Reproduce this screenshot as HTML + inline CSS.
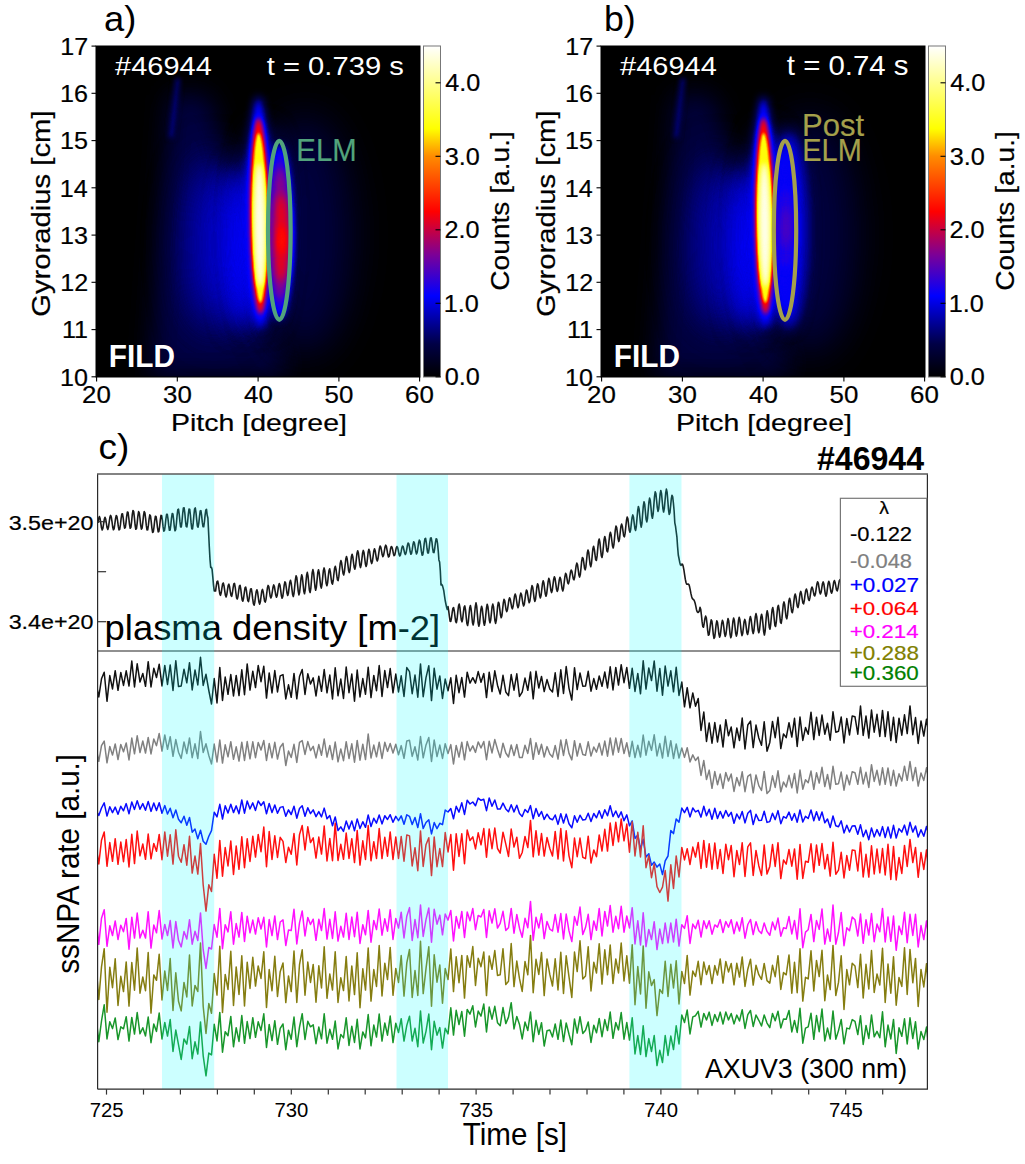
<!DOCTYPE html>
<html><head><meta charset="utf-8"><style>
html,body{margin:0;padding:0;background:#fff;width:1025px;height:1164px;overflow:hidden}
svg{display:block}
text{font-family:"Liberation Sans", sans-serif}
</style></head><body>
<svg width="1025" height="1164" viewBox="0 0 1025 1164">
<rect width="1025" height="1164" fill="#fff"/>
<defs>
<filter id="cm" x="0" y="0" width="1" height="1" color-interpolation-filters="sRGB"><feComponentTransfer><feFuncR type="table" tableValues="0.000 0.000 0.000 0.000 0.000 0.000 0.000 0.000 0.000 0.000 0.000 0.000 0.000 0.000 0.000 0.000 0.035 0.097 0.160 0.222 0.284 0.346 0.409 0.471 0.533 0.595 0.658 0.720 0.782 0.844 0.907 0.969 1.000 1.000 1.000 1.000 1.000 1.000 1.000 1.000 1.000 1.000 1.000 1.000 1.000 1.000 1.000 1.000 1.000 1.000 1.000 1.000 1.000 1.000 1.000 1.000 1.000 1.000 1.000 1.000 1.000 1.000 1.000 1.000"/><feFuncG type="table" tableValues="0.000 0.000 0.000 0.000 0.000 0.000 0.000 0.000 0.000 0.000 0.000 0.000 0.000 0.000 0.000 0.000 0.000 0.000 0.000 0.000 0.000 0.000 0.000 0.000 0.000 0.000 0.000 0.000 0.000 0.000 0.000 0.000 0.026 0.078 0.130 0.183 0.235 0.287 0.339 0.391 0.444 0.496 0.548 0.633 0.720 0.806 0.892 0.978 1.000 1.000 1.000 1.000 1.000 1.000 1.000 1.000 1.000 1.000 1.000 1.000 1.000 1.000 1.000 1.000"/><feFuncB type="table" tableValues="0.000 0.044 0.087 0.131 0.174 0.218 0.261 0.330 0.410 0.489 0.568 0.648 0.727 0.807 0.886 0.965 0.970 0.918 0.866 0.814 0.761 0.709 0.657 0.604 0.539 0.467 0.395 0.323 0.251 0.180 0.108 0.036 0.000 0.000 0.000 0.000 0.000 0.000 0.000 0.000 0.000 0.000 0.000 0.000 0.000 0.000 0.000 0.000 0.048 0.111 0.175 0.238 0.302 0.365 0.429 0.492 0.556 0.619 0.683 0.746 0.810 0.873 0.937 1.000"/></feComponentTransfer></filter>
<filter id="b1" x="-100%" y="-100%" width="300%" height="300%" color-interpolation-filters="sRGB"><feGaussianBlur stdDeviation="1.2"/></filter>
<filter id="b2" x="-100%" y="-100%" width="300%" height="300%" color-interpolation-filters="sRGB"><feGaussianBlur stdDeviation="2.5"/></filter>
<filter id="b3" x="-100%" y="-100%" width="300%" height="300%" color-interpolation-filters="sRGB"><feGaussianBlur stdDeviation="4"/></filter>
<filter id="b4" x="-100%" y="-100%" width="300%" height="300%" color-interpolation-filters="sRGB"><feGaussianBlur stdDeviation="7"/></filter>
<filter id="b5" x="-100%" y="-100%" width="300%" height="300%" color-interpolation-filters="sRGB"><feGaussianBlur stdDeviation="13"/></filter>
<filter id="b6" x="-100%" y="-100%" width="300%" height="300%" color-interpolation-filters="sRGB"><feGaussianBlur stdDeviation="20"/></filter>
<linearGradient id="cbg" x1="0" y1="1" x2="0" y2="0"><stop offset="0.0" stop-color="rgb(0,0,0)"/><stop offset="0.1" stop-color="rgb(0,0,70)"/><stop offset="0.245" stop-color="rgb(0,0,255)"/><stop offset="0.37" stop-color="rgb(125,0,150)"/><stop offset="0.5" stop-color="rgb(255,0,0)"/><stop offset="0.667" stop-color="rgb(255,140,0)"/><stop offset="0.75" stop-color="rgb(255,255,0)"/><stop offset="1.0" stop-color="rgb(255,255,255)"/></linearGradient>
<clipPath id="clipA"><rect x="96" y="46" width="324" height="331"/></clipPath>
<clipPath id="clipC"><rect x="97.5" y="474" width="829.5" height="615"/></clipPath>
</defs>
<g clip-path="url(#clipA)" transform="translate(0,0)">
<g filter="url(#cm)">
<rect x="96" y="46" width="324" height="331" fill="#000"/>
<path d="M170,95 L208,95 L288,377 L150,377 Z" fill="rgb(24,24,24)" filter="url(#b5)"/>
<ellipse cx="214" cy="245" rx="26" ry="88" fill="rgb(54,54,54)" filter="url(#b6)"/>
<ellipse cx="305" cy="235" rx="45" ry="120" fill="rgb(23,23,23)" filter="url(#b6)"/>
<path d="M178,78 L171,138" stroke="rgb(40,40,40)" stroke-width="5" filter="url(#b2)"/>
<ellipse cx="242" cy="248" rx="14" ry="82" fill="rgb(71,71,71)" filter="url(#b5)"/>
<ellipse cx="262" cy="228" rx="18" ry="98" fill="rgb(57,57,57)" filter="url(#b5)"/>
<ellipse cx="280" cy="232" rx="12" ry="88" fill="rgb(77,77,77)" filter="url(#b3)"/>
<ellipse cx="280" cy="233" rx="9.5" ry="66" fill="rgb(99,99,99)" filter="url(#b3)"/>
<ellipse cx="281" cy="238" rx="8.5" ry="44" fill="rgb(122,122,122)" filter="url(#b3)"/>
<ellipse cx="281.5" cy="240" rx="4" ry="14" fill="rgb(136,136,136)" filter="url(#b3)"/>
<ellipse cx="259.5" cy="212" rx="11" ry="116" fill="rgb(74,74,74)" filter="url(#b3)" transform="rotate(-0.6 259.5 212)"/>
<ellipse cx="259.5" cy="216" rx="8.8" ry="98" fill="rgb(133,133,133)" filter="url(#b2)" transform="rotate(-0.6 259.5 216)"/>
<ellipse cx="259.5" cy="218" rx="7.4" ry="85" fill="rgb(193,193,193)" filter="url(#b1)" transform="rotate(-0.6 259.5 218)"/>
<ellipse cx="259.8" cy="225" rx="5.8" ry="62" fill="rgb(249,249,249)" filter="url(#b2)" transform="rotate(-0.6 259.8 225)"/>
</g></g>
<rect x="96" y="46" width="324" height="331" fill="none" stroke="#000" stroke-width="1"/>
<line x1="91.5" y1="376.8" x2="96" y2="376.8" stroke="#000" stroke-width="1.1"/>
<line x1="91.5" y1="329.6" x2="96" y2="329.6" stroke="#000" stroke-width="1.1"/>
<line x1="91.5" y1="282.3" x2="96" y2="282.3" stroke="#000" stroke-width="1.1"/>
<line x1="91.5" y1="235.1" x2="96" y2="235.1" stroke="#000" stroke-width="1.1"/>
<line x1="91.5" y1="187.8" x2="96" y2="187.8" stroke="#000" stroke-width="1.1"/>
<line x1="91.5" y1="140.6" x2="96" y2="140.6" stroke="#000" stroke-width="1.1"/>
<line x1="91.5" y1="93.3" x2="96" y2="93.3" stroke="#000" stroke-width="1.1"/>
<line x1="91.5" y1="46.1" x2="96" y2="46.1" stroke="#000" stroke-width="1.1"/>
<line x1="96.6" y1="377" x2="96.6" y2="381.5" stroke="#000" stroke-width="1.1"/>
<line x1="177.3" y1="377" x2="177.3" y2="381.5" stroke="#000" stroke-width="1.1"/>
<line x1="258.1" y1="377" x2="258.1" y2="381.5" stroke="#000" stroke-width="1.1"/>
<line x1="338.9" y1="377" x2="338.9" y2="381.5" stroke="#000" stroke-width="1.1"/>
<line x1="419.6" y1="377" x2="419.6" y2="381.5" stroke="#000" stroke-width="1.1"/>
<rect x="423.5" y="46" width="17" height="331" fill="url(#cbg)" stroke="#777" stroke-width="1"/>
<line x1="435.5" y1="376.8" x2="440.5" y2="376.8" stroke="#000" stroke-width="1.1"/>
<line x1="435.5" y1="303.3" x2="440.5" y2="303.3" stroke="#000" stroke-width="1.1"/>
<line x1="435.5" y1="229.8" x2="440.5" y2="229.8" stroke="#000" stroke-width="1.1"/>
<line x1="435.5" y1="156.3" x2="440.5" y2="156.3" stroke="#000" stroke-width="1.1"/>
<line x1="435.5" y1="82.8" x2="440.5" y2="82.8" stroke="#000" stroke-width="1.1"/>
<g clip-path="url(#clipA)" transform="translate(505,0)">
<g filter="url(#cm)">
<rect x="96" y="46" width="324" height="331" fill="#000"/>
<path d="M170,95 L208,95 L288,377 L150,377 Z" fill="rgb(22,22,22)" filter="url(#b5)"/>
<ellipse cx="214" cy="245" rx="26" ry="88" fill="rgb(50,50,50)" filter="url(#b6)"/>
<ellipse cx="305" cy="235" rx="45" ry="120" fill="rgb(23,23,23)" filter="url(#b6)"/>
<path d="M178,78 L171,138" stroke="rgb(40,40,40)" stroke-width="5" filter="url(#b2)"/>
<ellipse cx="242" cy="248" rx="14" ry="82" fill="rgb(71,71,71)" filter="url(#b5)"/>
<ellipse cx="262" cy="228" rx="18" ry="98" fill="rgb(57,57,57)" filter="url(#b5)"/>
<ellipse cx="284" cy="230" rx="18" ry="100" fill="rgb(61,61,61)" filter="url(#b4)"/>
<ellipse cx="280" cy="230" rx="11" ry="82" fill="rgb(63,63,63)" filter="url(#b3)"/>
<ellipse cx="281" cy="228" rx="7" ry="40" fill="rgb(74,74,74)" filter="url(#b3)"/>
<ellipse cx="281" cy="227" rx="4" ry="18" fill="rgb(85,85,85)" filter="url(#b3)"/>
<ellipse cx="259.5" cy="212" rx="11" ry="116" fill="rgb(74,74,74)" filter="url(#b3)" transform="rotate(-0.6 259.5 212)"/>
<ellipse cx="259.5" cy="216" rx="8.8" ry="98" fill="rgb(133,133,133)" filter="url(#b2)" transform="rotate(-0.6 259.5 216)"/>
<ellipse cx="259.5" cy="218" rx="7.4" ry="85" fill="rgb(193,193,193)" filter="url(#b1)" transform="rotate(-0.6 259.5 218)"/>
<ellipse cx="259.8" cy="225" rx="5.8" ry="62" fill="rgb(249,249,249)" filter="url(#b2)" transform="rotate(-0.6 259.8 225)"/>
</g></g>
<rect x="601" y="46" width="324" height="331" fill="none" stroke="#000" stroke-width="1"/>
<line x1="596.5" y1="376.8" x2="601" y2="376.8" stroke="#000" stroke-width="1.1"/>
<line x1="596.5" y1="329.6" x2="601" y2="329.6" stroke="#000" stroke-width="1.1"/>
<line x1="596.5" y1="282.3" x2="601" y2="282.3" stroke="#000" stroke-width="1.1"/>
<line x1="596.5" y1="235.1" x2="601" y2="235.1" stroke="#000" stroke-width="1.1"/>
<line x1="596.5" y1="187.8" x2="601" y2="187.8" stroke="#000" stroke-width="1.1"/>
<line x1="596.5" y1="140.6" x2="601" y2="140.6" stroke="#000" stroke-width="1.1"/>
<line x1="596.5" y1="93.3" x2="601" y2="93.3" stroke="#000" stroke-width="1.1"/>
<line x1="596.5" y1="46.1" x2="601" y2="46.1" stroke="#000" stroke-width="1.1"/>
<line x1="601.6" y1="377" x2="601.6" y2="381.5" stroke="#000" stroke-width="1.1"/>
<line x1="682.4" y1="377" x2="682.4" y2="381.5" stroke="#000" stroke-width="1.1"/>
<line x1="763.1" y1="377" x2="763.1" y2="381.5" stroke="#000" stroke-width="1.1"/>
<line x1="843.9" y1="377" x2="843.9" y2="381.5" stroke="#000" stroke-width="1.1"/>
<line x1="924.6" y1="377" x2="924.6" y2="381.5" stroke="#000" stroke-width="1.1"/>
<rect x="928.5" y="46" width="17" height="331" fill="url(#cbg)" stroke="#777" stroke-width="1"/>
<line x1="940.5" y1="376.8" x2="945.5" y2="376.8" stroke="#000" stroke-width="1.1"/>
<line x1="940.5" y1="303.3" x2="945.5" y2="303.3" stroke="#000" stroke-width="1.1"/>
<line x1="940.5" y1="229.8" x2="945.5" y2="229.8" stroke="#000" stroke-width="1.1"/>
<line x1="940.5" y1="156.3" x2="945.5" y2="156.3" stroke="#000" stroke-width="1.1"/>
<line x1="940.5" y1="82.8" x2="945.5" y2="82.8" stroke="#000" stroke-width="1.1"/>
<ellipse cx="279.3" cy="230.3" rx="11.3" ry="89.5" fill="none" stroke="#52a37c" stroke-width="4.2"/>
<ellipse cx="785" cy="230.3" rx="11.2" ry="89.5" fill="none" stroke="#a5a04b" stroke-width="4.2"/>
<g clip-path="url(#clipC)">
<polyline points="98.0,522.9 98.7,518.3 99.4,516.6 100.1,518.6 100.8,523.2 101.5,527.8 102.2,529.9 102.9,528.2 103.6,523.8 104.3,519.3 105.0,517.2 105.7,519.0 106.4,523.5 107.1,527.8 107.8,529.4 108.5,527.1 109.2,522.2 109.9,517.3 110.6,515.4 111.3,517.0 112.0,521.6 112.7,527.0 113.4,529.8 114.1,528.8 114.8,524.2 115.5,518.8 116.2,515.6 116.9,516.3 117.6,520.7 118.3,526.4 119.0,529.9 119.7,529.4 120.4,524.9 121.1,518.7 121.8,514.0 122.5,513.8 123.2,518.0 123.9,524.2 124.6,528.2 125.3,527.7 126.0,522.6 126.7,516.1 127.4,512.0 128.1,512.5 128.8,518.0 129.5,524.3 130.2,528.3 130.9,527.3 131.6,521.6 132.3,514.3 133.0,510.5 133.7,511.7 134.4,517.7 135.1,525.0 135.8,529.3 136.5,528.4 137.2,522.8 137.9,515.8 138.6,511.6 139.3,512.8 140.0,518.5 140.7,525.3 141.4,529.2 142.1,528.0 142.8,522.4 143.5,515.6 144.2,511.6 144.9,512.9 145.6,518.4 146.3,525.4 147.0,530.0 147.7,529.8 148.4,525.2 149.1,518.9 149.8,514.9 150.5,515.9 151.2,521.3 151.9,528.1 152.6,532.4 153.3,531.8 154.0,527.0 154.7,520.6 155.4,516.2 156.1,516.7 156.8,521.4 157.5,527.6 158.2,531.9 158.9,531.5 159.6,526.6 160.3,519.9 161.0,515.4 161.7,515.7 162.4,520.4 163.1,526.9 163.8,531.1 164.5,530.5 165.2,525.6 165.9,518.8 166.6,514.3 167.3,514.3 168.0,518.9 168.7,525.4 169.4,530.3 170.1,530.1 170.8,525.1 171.5,518.2 172.2,513.5 172.9,513.9 173.6,519.4 174.3,526.5 175.0,530.8 175.7,529.6 176.4,523.5 177.1,515.3 177.8,509.6 178.5,509.2 179.2,514.1 179.9,521.4 180.6,527.0 181.3,526.9 182.0,521.3 182.7,513.5 183.4,507.9 184.1,507.7 184.8,512.9 185.5,520.8 186.2,526.4 186.9,527.0 187.6,522.0 188.3,514.3 189.0,509.1 189.7,509.2 190.4,515.1 191.1,522.9 191.8,528.8 192.5,528.9 193.2,523.3 193.9,515.1 194.6,508.9 195.3,507.9 196.0,512.6 196.7,519.9 197.4,526.1 198.1,527.2 198.8,523.1 199.5,516.6 200.2,511.0 200.9,510.6 201.6,515.4 202.3,522.2 203.0,526.7 203.7,526.8 204.4,522.0 205.1,515.2 205.8,510.1 206.5,509.4 207.2,515.3 207.9,518.0 208.6,532.4 209.3,546.8 210.0,559.4 210.7,567.4 211.4,567.3 212.1,569.6 212.8,576.9 213.5,585.1 214.2,590.9 214.9,590.8 215.6,591.0 216.3,585.6 217.0,581.6 217.7,581.0 218.4,584.1 219.1,589.4 219.8,593.8 220.5,595.3 221.2,592.8 221.9,588.1 222.6,584.0 223.3,583.0 224.0,585.7 224.7,590.7 225.4,595.3 226.1,596.9 226.8,594.6 227.5,589.8 228.2,585.3 228.9,584.1 229.6,586.8 230.3,591.6 231.0,595.4 231.7,596.3 232.4,593.0 233.1,587.8 233.8,583.9 234.5,583.4 235.2,587.1 235.9,593.0 236.6,597.8 237.3,599.0 238.0,596.2 238.7,590.7 239.4,586.1 240.1,585.3 240.8,589.1 241.5,595.3 242.2,600.1 242.9,601.2 243.6,598.0 244.3,592.6 245.0,587.8 245.7,587.0 246.4,590.3 247.1,595.8 247.8,600.6 248.5,601.6 249.2,598.2 249.9,592.8 250.6,588.9 251.3,588.7 252.0,592.8 252.7,598.9 253.4,603.7 254.1,605.2 254.8,602.2 255.5,596.5 256.2,591.6 256.9,589.8 257.6,592.1 258.3,597.3 259.0,602.3 259.7,604.1 260.4,601.6 261.1,596.2 261.8,591.0 262.5,589.4 263.2,591.9 263.9,596.8 264.6,601.0 265.3,602.1 266.0,599.4 266.7,593.6 267.4,588.0 268.1,585.4 268.8,586.7 269.5,591.3 270.2,596.2 270.9,598.0 271.6,596.2 272.3,591.9 273.0,587.3 273.7,584.9 274.4,586.5 275.1,590.9 275.8,595.3 276.5,597.3 277.2,595.4 277.9,590.6 278.6,585.7 279.3,583.5 280.0,585.3 280.7,590.4 281.4,595.7 282.1,598.2 282.8,596.5 283.5,591.2 284.2,585.2 284.9,581.8 285.6,583.0 286.3,587.7 287.0,593.1 287.7,595.5 288.4,593.2 289.1,587.4 289.8,582.2 290.5,580.2 291.2,583.2 291.9,588.9 292.6,594.4 293.3,596.6 294.0,593.5 294.7,586.7 295.4,579.6 296.1,575.7 296.8,577.5 297.5,584.0 298.2,591.2 298.9,594.9 299.6,592.5 300.3,585.8 301.0,578.6 301.7,574.8 302.4,577.3 303.1,584.3 303.8,591.2 304.5,593.8 305.2,590.2 305.9,582.6 306.6,575.3 307.3,572.4 308.0,575.9 308.7,583.5 309.4,590.3 310.1,592.5 310.8,588.7 311.5,580.3 312.2,572.6 312.9,569.6 313.6,572.7 314.3,579.8 315.0,587.2 315.7,590.2 316.4,587.0 317.1,579.7 317.8,572.5 318.5,569.7 319.2,572.7 319.9,579.4 320.6,585.7 321.3,588.1 322.0,584.7 322.7,577.4 323.4,570.4 324.1,567.9 324.8,570.8 325.5,577.4 326.2,583.6 326.9,585.8 327.6,582.8 328.3,576.1 329.0,570.5 329.7,568.8 330.4,572.1 331.1,578.3 331.8,582.9 332.5,584.2 333.2,580.5 333.9,574.0 334.6,568.2 335.3,566.2 336.0,569.2 336.7,574.8 337.4,579.7 338.1,580.6 338.8,576.7 339.5,570.0 340.2,563.5 340.9,560.6 341.6,562.8 342.3,568.1 343.0,573.2 343.7,575.0 344.4,571.9 345.1,565.4 345.8,559.0 346.5,556.5 347.2,559.0 347.9,564.8 348.6,570.5 349.3,572.6 350.0,569.7 350.7,563.0 351.4,556.7 352.1,554.3 352.8,556.7 353.5,562.4 354.2,567.4 354.9,569.2 355.6,566.0 356.3,559.4 357.0,553.2 357.7,550.8 358.4,553.0 359.1,558.8 359.8,565.0 360.5,567.6 361.2,564.9 361.9,558.9 362.6,552.9 363.3,550.4 364.0,552.6 364.7,558.2 365.4,564.0 366.1,566.5 366.8,564.2 367.5,558.1 368.2,551.9 368.9,549.2 369.6,551.2 370.3,556.4 371.0,561.6 371.7,563.6 372.4,561.3 373.1,556.3 373.8,551.0 374.5,548.8 375.2,550.7 375.9,555.4 376.6,559.4 377.3,561.0 378.0,558.7 378.7,553.6 379.4,548.6 380.1,546.0 380.8,547.1 381.5,550.7 382.2,554.8 382.9,556.6 383.6,555.1 384.3,551.3 385.0,547.1 385.7,545.2 386.4,546.5 387.1,550.3 387.8,554.6 388.5,556.9 389.2,556.3 389.9,552.9 390.6,548.6 391.3,546.5 392.0,547.1 392.7,549.9 393.4,553.7 394.1,555.6 394.8,554.9 395.5,551.7 396.2,548.1 396.9,546.5 397.6,547.4 398.3,550.5 399.0,554.1 399.7,555.9 400.4,555.0 401.1,551.9 401.8,548.1 402.5,546.0 403.2,546.6 403.9,549.7 404.6,552.9 405.3,554.5 406.0,553.2 406.7,549.6 407.4,545.4 408.1,543.0 408.8,543.8 409.5,547.4 410.2,551.8 410.9,554.2 411.6,553.2 412.3,549.2 413.0,544.5 413.7,541.8 414.4,542.9 415.1,546.8 415.8,551.5 416.5,554.0 417.2,552.5 417.9,548.0 418.6,542.9 419.3,540.1 420.0,541.2 420.7,545.8 421.4,551.4 422.1,555.2 422.8,554.8 423.5,550.2 424.2,543.6 424.9,538.9 425.6,538.3 426.3,542.3 427.0,548.5 427.7,552.9 428.4,553.0 429.1,548.8 429.8,542.4 430.5,538.1 431.2,537.9 431.9,541.7 432.6,548.1 433.3,552.4 434.0,552.6 434.7,548.5 435.4,542.8 436.1,538.8 436.8,539.2 437.5,543.3 438.2,550.3 438.9,559.9 439.6,561.9 440.3,570.6 441.0,585.0 441.7,584.4 442.4,585.5 443.1,587.9 443.8,590.8 444.5,595.8 445.2,600.5 445.9,604.0 446.6,607.3 447.3,609.4 448.0,606.6 448.7,610.8 449.4,616.4 450.1,621.2 450.8,621.4 451.5,617.8 452.2,612.5 452.9,608.3 453.6,607.6 454.3,611.0 455.0,616.7 455.7,621.6 456.4,622.7 457.1,619.0 457.8,612.2 458.5,606.0 459.2,604.0 459.9,607.4 460.6,614.1 461.3,620.0 462.0,621.8 462.7,618.7 463.4,612.4 464.1,607.1 464.8,605.9 465.5,609.9 466.2,617.1 466.9,623.5 467.6,625.5 468.3,621.9 469.0,614.5 469.7,607.9 470.4,605.5 471.1,609.0 471.8,616.0 472.5,622.7 473.2,624.9 473.9,621.3 474.6,613.5 475.3,606.3 476.0,602.9 476.7,606.2 477.4,614.4 478.1,622.5 478.8,626.2 479.5,623.8 480.2,616.6 480.9,609.4 481.6,606.3 482.3,608.8 483.0,615.6 483.7,622.5 484.4,625.3 485.1,622.3 485.8,614.9 486.5,607.8 487.2,604.2 487.9,606.6 488.6,613.2 489.3,620.0 490.0,622.8 490.7,620.0 491.4,613.4 492.1,606.7 492.8,604.1 493.5,606.7 494.2,613.5 494.9,620.5 495.6,623.4 496.3,620.4 497.0,613.3 497.7,605.8 498.4,602.2 499.1,603.7 499.8,609.4 500.5,615.1 501.2,617.8 501.9,615.7 502.6,609.4 503.3,603.0 504.0,599.4 504.7,600.6 505.4,605.3 506.1,610.0 506.8,611.6 507.5,609.5 508.2,604.9 508.9,599.8 509.6,597.7 510.3,599.3 511.0,603.3 511.7,607.4 512.4,608.8 513.1,606.3 513.8,601.4 514.5,596.2 515.2,594.0 515.9,596.0 516.6,600.8 517.3,605.6 518.0,607.7 518.7,605.8 519.4,600.8 520.1,595.6 520.8,593.1 521.5,594.5 522.2,598.8 522.9,603.6 523.6,605.9 524.3,604.4 525.0,599.2 525.7,593.4 526.4,590.1 527.1,591.0 527.8,595.4 528.5,600.0 529.2,602.7 529.9,601.0 530.6,595.6 531.3,589.1 532.0,585.6 532.7,587.0 533.4,592.4 534.1,598.4 534.8,601.4 535.5,599.5 536.2,593.5 536.9,586.9 537.6,583.8 538.3,585.4 539.0,590.5 539.7,596.0 540.4,597.9 541.1,595.2 541.8,589.4 542.5,583.5 543.2,580.8 543.9,583.0 544.6,588.7 545.3,594.0 546.0,596.2 546.7,593.7 547.4,587.7 548.1,581.7 548.8,578.4 549.5,580.0 550.2,585.2 550.9,590.4 551.6,592.6 552.3,590.2 553.0,584.6 553.7,579.2 554.4,576.7 555.1,578.6 555.8,583.7 556.5,589.0 557.2,591.4 557.9,589.6 558.6,584.7 559.3,579.7 560.0,577.3 560.7,579.0 561.4,583.8 562.1,588.8 562.8,591.0 563.5,588.4 564.2,582.4 564.9,576.6 565.6,573.3 566.3,574.5 567.0,578.7 567.7,582.7 568.4,583.8 569.1,581.4 569.8,576.7 570.5,572.1 571.2,570.0 571.9,571.4 572.6,575.1 573.3,578.9 574.0,579.9 574.7,577.0 575.4,571.4 576.1,565.9 576.8,563.1 577.5,564.6 578.2,569.7 578.9,574.9 579.6,577.1 580.3,574.6 581.0,568.1 581.7,561.2 582.4,557.5 583.1,558.2 583.8,562.7 584.5,568.1 585.2,569.8 585.9,566.7 586.6,560.0 587.3,553.0 588.0,550.0 588.7,552.2 589.4,558.5 590.1,564.6 590.8,566.7 591.5,563.3 592.2,555.7 592.9,548.6 593.6,546.2 594.3,549.1 595.0,554.6 595.7,559.8 596.4,560.5 597.1,555.9 597.8,548.1 598.5,541.3 599.2,539.0 599.9,542.4 600.6,549.3 601.3,555.6 602.0,557.5 602.7,553.8 603.4,546.7 604.1,539.4 604.8,536.5 605.5,539.2 606.2,545.6 606.9,550.9 607.6,551.8 608.3,547.9 609.0,541.2 609.7,534.8 610.4,532.2 611.1,534.6 611.8,540.5 612.5,546.0 613.2,548.0 613.9,544.6 614.6,537.3 615.3,529.9 616.0,526.0 616.7,527.5 617.4,533.0 618.1,538.9 618.8,541.6 619.5,539.0 620.2,532.6 620.9,526.5 621.6,524.1 622.3,526.2 623.0,531.1 623.7,535.8 624.4,536.9 625.1,533.4 625.8,526.7 626.5,520.2 627.2,517.0 627.9,518.8 628.6,524.7 629.3,530.2 630.0,532.3 630.7,529.5 631.4,523.2 632.1,517.4 632.8,514.9 633.5,517.3 634.2,523.1 634.9,528.6 635.6,530.4 636.3,526.5 637.0,518.3 637.7,510.5 638.4,506.5 639.1,508.9 639.8,516.4 640.5,523.7 641.2,527.2 641.9,523.7 642.6,514.5 643.3,506.1 644.0,501.8 644.7,504.3 645.4,511.8 646.1,519.2 646.8,521.9 647.5,518.5 648.2,510.3 648.9,502.2 649.6,498.1 650.3,500.5 651.0,507.8 651.7,515.6 652.4,518.3 653.1,514.4 653.8,505.6 654.5,496.5 655.2,491.8 655.9,493.6 656.6,500.5 657.3,507.6 658.0,511.4 658.7,509.0 659.4,501.8 660.1,494.0 660.8,490.5 661.5,493.4 662.2,501.0 662.9,508.7 663.6,512.0 664.3,508.6 665.0,501.0 665.7,493.0 666.4,489.1 667.1,492.1 667.8,500.5 668.5,509.6 669.2,514.4 669.9,512.8 670.6,506.2 671.3,499.0 672.0,495.2 672.7,496.9 673.4,503.0 674.1,510.7 674.8,522.8 675.5,526.2 676.2,531.7 676.9,536.9 677.6,546.9 678.3,555.0 679.0,558.5 679.7,562.2 680.4,564.8 681.1,565.3 681.8,564.1 682.5,564.3 683.2,566.3 683.9,569.8 684.6,574.6 685.3,579.2 686.0,582.5 686.7,584.2 687.4,584.3 688.1,584.0 688.8,584.4 689.5,586.3 690.2,589.6 690.9,593.4 691.6,596.4 692.3,598.4 693.0,599.3 693.7,599.7 694.4,600.9 695.1,603.0 695.8,606.1 696.5,609.7 697.2,611.8 697.9,612.5 698.6,612.0 699.3,611.0 700.0,607.3 700.7,609.2 701.4,614.9 702.1,621.7 702.8,626.6 703.5,627.2 704.2,623.4 704.9,618.7 705.6,616.1 706.3,617.7 707.0,623.5 707.7,630.8 708.4,635.3 709.1,634.6 709.8,629.6 710.5,623.6 711.2,619.8 711.9,621.2 712.6,627.3 713.3,634.3 714.0,638.4 714.7,637.1 715.4,631.3 716.1,624.6 716.8,620.9 717.5,622.4 718.2,627.8 718.9,634.1 719.6,637.1 720.3,635.2 721.0,629.7 721.7,623.5 722.4,620.3 723.1,622.0 723.8,627.2 724.5,633.3 725.2,636.4 725.9,634.5 726.6,628.8 727.3,622.3 728.0,618.6 728.7,620.7 729.4,627.4 730.1,634.3 730.8,637.8 731.5,635.5 732.2,628.7 732.9,621.5 733.6,618.1 734.3,620.2 735.0,626.6 735.7,633.3 736.4,636.1 737.1,633.6 737.8,627.0 738.5,620.3 739.2,617.3 739.9,619.8 740.6,626.2 741.3,632.4 742.0,635.6 742.7,633.4 743.4,627.6 744.1,621.7 744.8,619.4 745.5,621.8 746.2,627.1 746.9,632.6 747.6,634.5 748.3,631.6 749.0,625.3 749.7,619.1 750.4,616.5 751.1,619.1 751.8,625.1 752.5,631.1 753.2,633.6 753.9,630.7 754.6,623.7 755.3,616.7 756.0,613.6 756.7,616.4 757.4,623.1 758.1,630.0 758.8,632.7 759.5,630.1 760.2,623.7 760.9,616.9 761.6,614.2 762.3,617.3 763.0,624.4 763.7,631.9 764.4,635.0 765.1,631.4 765.8,622.7 766.5,614.3 767.2,610.7 767.9,613.6 768.6,620.9 769.3,627.4 770.0,629.1 770.7,624.3 771.4,616.8 772.1,609.8 772.8,607.6 773.5,611.5 774.2,619.0 774.9,625.3 775.6,626.5 776.3,621.8 777.0,613.9 777.7,607.1 778.4,605.4 779.1,609.4 779.8,616.2 780.5,622.3 781.2,623.4 781.9,618.9 782.6,611.1 783.3,604.3 784.0,601.9 784.7,604.8 785.4,611.3 786.1,617.2 786.8,618.8 787.5,614.9 788.2,607.3 788.9,600.7 789.6,598.2 790.3,600.9 791.0,606.9 791.7,611.7 792.4,612.7 793.1,608.9 793.8,602.2 794.5,596.3 795.2,594.0 795.9,596.4 796.6,601.8 797.3,606.4 798.0,607.6 798.7,604.4 799.4,598.6 800.1,593.2 800.8,591.4 801.5,594.0 802.2,599.1 802.9,603.0 803.6,603.8 804.3,600.6 805.0,595.1 805.7,590.5 806.4,589.0 807.1,591.1 807.8,595.7 808.5,599.4 809.2,600.5 809.9,597.9 810.6,593.1 811.3,588.7 812.0,587.0 812.7,588.6 813.4,591.9 814.1,595.1 814.8,595.9 815.5,593.5 816.2,588.7 816.9,584.0 817.6,581.8 818.3,583.2 819.0,587.6 819.7,592.1 820.4,594.0 821.1,592.3 821.8,587.8 822.5,583.5 823.2,581.9 823.9,584.1 824.6,589.1 825.3,594.1 826.0,596.2 826.7,594.1 827.4,588.6 828.1,583.6 828.8,581.3 829.5,583.0 830.2,587.4 830.9,591.7 831.6,593.2 832.3,591.2 833.0,586.8 833.7,582.0 834.4,580.5 835.1,582.5 835.8,586.2 836.5,589.9 837.2,590.9 837.9,588.6 838.6,584.7 839.3,580.7 840.0,579.6 840.7,581.9 841.4,585.7 842.1,589.4 842.8,590.7 843.5,588.5 844.2,583.4 844.9,578.3 845.6,575.4 846.3,577.3 847.0,583.2 847.7,589.0 848.4,592.5 849.1,591.5 849.8,587.0 850.5,582.6 851.2,580.4 851.9,581.2 852.6,584.5 853.3,587.5 854.0,588.6 854.7,587.1 855.4,583.7 856.1,579.9 856.8,578.1 857.5,579.3 858.2,583.0 858.9,586.7 859.6,588.7 860.3,587.7 861.0,584.0 861.7,579.8 862.4,577.6 863.1,578.3 863.8,581.5 864.5,585.4 865.2,587.3 865.9,586.0 866.6,581.9 867.3,577.7 868.0,575.5 868.7,577.2 869.4,582.0 870.1,587.0 870.8,589.5 871.5,588.0 872.2,583.2 872.9,578.1 873.6,575.5 874.3,577.2 875.0,582.3 875.7,587.8 876.4,590.9 877.1,589.3 877.8,583.8 878.5,577.4 879.2,574.1 879.9,575.9 880.6,582.2 881.3,588.9 882.0,592.5 882.7,590.5 883.4,583.5 884.1,576.4 884.8,572.2 885.5,573.9 886.2,580.2 886.9,586.9 887.6,590.4 888.3,588.2 889.0,581.4 889.7,573.7 890.4,569.7 891.1,571.1 891.8,577.3 892.5,584.2 893.2,588.4 893.9,587.3 894.6,581.8 895.3,575.6 896.0,572.4 896.7,574.0 897.4,579.4 898.1,585.7 898.8,588.8 899.5,586.4 900.2,580.3 900.9,574.0 901.6,571.3 902.3,573.8 903.0,579.8 903.7,585.9 904.4,588.7 905.1,586.4 905.8,580.1 906.5,573.3 907.2,569.9 907.9,571.9 908.6,577.9 909.3,584.2 910.0,587.2 910.7,585.0 911.4,579.2 912.1,573.3 912.8,570.5 913.5,572.1 914.2,577.5 914.9,583.3 915.6,586.2 916.3,584.7 917.0,579.8 917.7,574.3 918.4,571.7 919.1,573.3 919.8,578.0 920.5,583.6 921.2,586.8 921.9,585.5 922.6,580.3 923.3,574.1 924.0,570.3 924.7,570.9 925.4,575.4 926.1,581.1 926.8,584.5" fill="none" stroke="#1a1a1a" stroke-width="1.6" stroke-linejoin="round"/>
<polyline points="96.0,683.1 98.8,696.9 101.5,678.8 104.2,672.2 107.0,701.3 109.8,675.6 112.5,688.9 115.2,670.7 118.0,690.3 120.8,672.5 123.5,685.4 126.2,670.8 129.0,686.0 131.8,661.1 134.5,687.0 137.2,663.8 140.0,682.1 142.8,673.4 145.5,686.3 148.2,661.7 151.0,687.0 153.8,668.3 156.5,677.5 159.2,664.2 162.0,685.9 164.8,665.4 167.5,684.5 170.2,664.9 173.0,690.4 175.8,660.7 178.5,686.6 181.2,686.0 184.0,669.2 186.8,682.8 189.5,662.7 192.2,689.9 195.0,670.0 197.8,684.9 200.5,657.3 203.2,685.4 206.0,674.3 208.8,690.5 211.5,704.0 214.2,678.6 217.0,702.9 219.8,667.4 222.5,700.5 225.2,677.0 228.0,694.3 230.8,674.5 233.5,695.9 236.2,675.4 239.0,695.6 241.8,669.8 244.5,694.7 247.2,663.9 250.0,690.1 252.8,671.2 255.5,687.6 258.2,665.5 261.0,681.7 263.8,666.2 266.5,698.1 269.2,672.9 272.0,693.0 274.8,670.5 277.5,691.9 280.2,675.9 283.0,674.6 285.8,698.9 288.5,684.8 291.2,697.3 294.0,673.4 296.8,698.8 299.5,676.5 302.2,669.5 305.0,694.5 307.8,673.8 310.5,684.0 313.2,677.9 316.0,696.0 318.8,676.2 321.5,691.3 324.2,669.5 327.0,692.8 329.8,675.0 332.5,698.9 335.2,667.7 338.0,695.8 340.8,679.0 343.5,698.5 346.2,667.0 349.0,692.7 351.8,674.0 354.5,701.3 357.2,670.0 360.0,696.9 362.8,678.6 365.5,694.3 368.2,667.2 371.0,697.6 373.8,675.4 376.5,690.7 379.2,665.5 382.0,696.5 384.8,670.6 387.5,687.6 390.2,668.6 393.0,692.8 395.8,674.0 398.5,692.0 401.2,675.8 404.0,696.4 406.8,667.6 409.5,671.7 412.2,693.7 415.0,675.1 417.8,697.2 420.5,663.9 423.2,696.7 426.0,677.7 428.8,665.7 431.5,700.6 434.2,668.3 437.0,689.2 439.8,675.9 442.5,698.5 445.2,679.1 448.0,690.8 450.8,677.8 453.5,703.4 456.2,675.3 459.0,692.7 461.8,677.5 464.5,697.1 467.2,672.2 470.0,683.1 472.8,677.7 475.5,683.2 478.2,671.6 481.0,682.2 483.8,673.6 486.5,697.6 489.2,672.2 492.0,691.6 494.8,670.8 497.5,685.2 500.2,694.0 503.0,675.3 505.8,692.0 508.5,695.6 511.2,674.6 514.0,690.2 516.8,673.8 519.5,696.4 522.2,692.1 525.0,678.1 527.8,690.3 530.5,672.1 533.2,698.8 536.0,671.3 538.8,688.0 541.5,676.4 544.2,691.6 547.0,679.6 549.8,689.0 552.5,691.9 555.2,672.8 558.0,696.5 560.8,669.8 563.5,693.4 566.2,666.5 569.0,688.3 571.8,700.0 574.5,667.7 577.2,689.6 580.0,673.0 582.8,686.2 585.5,686.0 588.2,671.3 591.0,691.2 593.8,678.6 596.5,689.2 599.2,675.9 602.0,686.3 604.8,672.0 607.5,687.9 610.2,666.8 613.0,689.9 615.8,667.4 618.5,685.1 621.2,664.7 624.0,682.7 626.8,667.5 629.5,688.3 632.2,668.3 635.0,691.5 637.8,673.4 640.5,693.8 643.2,660.8 646.0,689.1 648.8,667.9 651.5,680.6 654.2,661.0 657.0,691.2 659.8,668.4 662.5,695.3 665.2,666.0 668.0,686.1 670.8,670.8 673.5,691.8 676.2,667.3 679.0,695.4 681.8,682.1 684.5,706.8 687.2,687.7 690.0,707.8 692.8,692.9 695.5,706.2 698.2,698.4 701.0,730.4 703.8,712.0 706.5,741.4 709.2,722.9 712.0,743.2 714.8,722.6 717.5,741.9 720.2,725.1 723.0,746.9 725.8,719.7 728.5,735.8 731.2,727.0 734.0,747.8 736.8,728.0 739.5,740.5 742.2,718.1 745.0,749.0 747.8,725.0 750.5,721.1 753.2,747.6 756.0,725.1 758.8,738.0 761.5,745.2 764.2,721.8 767.0,751.3 769.8,742.4 772.5,721.4 775.2,737.7 778.0,717.3 780.8,748.6 783.5,733.9 786.2,737.6 789.0,722.7 791.8,737.1 794.5,718.3 797.2,746.4 800.0,717.0 802.8,740.4 805.5,727.6 808.2,734.3 811.0,712.2 813.8,739.6 816.5,717.2 819.2,735.5 822.0,715.1 824.8,734.2 827.5,723.3 830.2,740.2 833.0,711.8 835.8,732.2 838.5,731.3 841.2,717.0 844.0,742.9 846.8,718.6 849.5,734.9 852.2,716.0 855.0,716.8 857.8,734.2 860.5,706.0 863.2,735.4 866.0,716.1 868.8,738.1 871.5,710.1 874.2,732.2 877.0,714.3 879.8,736.5 882.5,710.4 885.2,736.6 888.0,711.7 890.8,740.6 893.5,717.3 896.2,742.5 899.0,718.2 901.8,735.2 904.5,714.8 907.2,733.6 910.0,705.9 912.8,734.7 915.5,717.5 918.2,743.4 921.0,720.9 923.8,736.1 926.5,719.2 929.2,737.0" fill="none" stroke="#111111" stroke-width="1.5" stroke-linejoin="round"/>
<polyline points="96.0,747.5 98.8,761.3 101.5,745.7 104.2,741.1 107.0,762.8 109.8,746.4 112.5,755.1 115.2,743.9 118.0,759.5 120.8,744.4 123.5,751.8 126.2,742.9 129.0,759.9 131.8,738.1 134.5,753.8 137.2,735.8 140.0,752.6 142.8,741.0 145.5,753.0 148.2,737.5 151.0,753.9 153.8,739.0 156.5,745.7 159.2,733.5 162.0,751.1 164.8,735.0 167.5,749.3 170.2,736.7 173.0,756.3 175.8,739.6 178.5,752.2 181.2,758.4 184.0,741.9 186.8,753.5 189.5,738.0 192.2,757.7 195.0,743.8 197.8,758.5 200.5,731.5 203.2,752.4 206.0,743.8 208.8,755.5 211.5,763.9 214.2,744.0 217.0,762.0 219.8,740.0 222.5,763.1 225.2,744.8 228.0,756.8 230.8,741.7 233.5,759.3 236.2,746.8 239.0,761.1 241.8,742.2 244.5,760.4 247.2,741.6 250.0,758.8 252.8,741.8 255.5,757.7 258.2,742.6 261.0,750.1 263.8,740.5 266.5,760.4 269.2,743.5 272.0,757.8 274.8,742.3 277.5,759.1 280.2,747.2 283.0,743.4 285.8,765.5 288.5,751.1 291.2,757.5 294.0,744.3 296.8,762.4 299.5,742.4 302.2,740.6 305.0,754.4 307.8,741.6 310.5,750.6 313.2,746.3 316.0,757.9 318.8,744.6 321.5,755.2 324.2,739.0 327.0,757.1 329.8,745.4 332.5,759.5 335.2,742.0 338.0,761.8 340.8,748.9 343.5,760.7 346.2,741.7 349.0,758.5 351.8,743.8 354.5,762.2 357.2,740.4 360.0,760.2 362.8,744.2 365.5,759.6 368.2,734.0 371.0,758.0 373.8,745.1 376.5,756.8 379.2,742.2 382.0,758.4 384.8,742.3 387.5,751.4 390.2,743.5 393.0,753.1 395.8,744.2 398.5,754.8 401.2,745.6 404.0,758.3 406.8,740.9 409.5,740.3 412.2,756.4 415.0,746.8 417.8,760.0 420.5,736.5 423.2,757.8 426.0,744.9 428.8,737.5 431.5,761.5 434.2,740.0 437.0,756.6 439.8,745.1 442.5,758.4 445.2,743.7 448.0,753.6 450.8,744.6 453.5,764.0 456.2,745.4 459.0,757.1 461.8,742.2 464.5,759.8 467.2,741.6 470.0,751.1 472.8,745.9 475.5,752.4 478.2,741.9 481.0,748.0 483.8,741.5 486.5,759.7 489.2,741.2 492.0,752.9 494.8,739.6 497.5,749.2 500.2,757.6 503.0,743.2 505.8,753.0 508.5,757.0 511.2,744.9 514.0,755.6 516.8,744.5 519.5,757.6 522.2,757.6 525.0,745.2 527.8,753.4 530.5,738.6 533.2,759.3 536.0,742.7 538.8,754.2 541.5,744.3 544.2,757.0 547.0,746.6 549.8,753.9 552.5,757.1 555.2,745.4 558.0,759.1 560.8,740.1 563.5,755.4 566.2,739.4 569.0,753.4 571.8,759.9 574.5,740.7 577.2,756.0 580.0,743.5 582.8,754.5 585.5,755.2 588.2,741.8 591.0,756.1 593.8,747.0 596.5,752.1 599.2,743.2 602.0,755.1 604.8,741.1 607.5,756.2 610.2,737.9 613.0,754.9 615.8,738.1 618.5,752.2 621.2,738.4 624.0,753.6 626.8,742.8 629.5,756.5 632.2,741.3 635.0,757.6 637.8,745.2 640.5,757.0 643.2,735.0 646.0,755.2 648.8,741.2 651.5,750.4 654.2,734.8 657.0,755.9 659.8,743.6 662.5,758.0 665.2,736.3 668.0,756.4 670.8,740.7 673.5,758.5 676.2,743.9 679.0,758.0 681.8,747.9 684.5,757.4 687.2,747.7 690.0,761.9 692.8,754.9 695.5,760.5 698.2,757.0 701.0,775.4 703.8,760.5 706.5,779.6 709.2,770.1 712.0,788.3 714.8,771.6 717.5,784.7 720.2,774.1 723.0,788.4 725.8,772.4 728.5,781.0 731.2,774.0 734.0,791.4 736.8,777.4 739.5,785.8 742.2,771.8 745.0,791.7 747.8,776.4 750.5,774.3 753.2,792.8 756.0,774.9 758.8,785.6 761.5,790.5 764.2,771.4 767.0,793.6 769.8,790.5 772.5,775.8 775.2,787.4 778.0,770.8 780.8,791.8 783.5,782.0 786.2,787.0 789.0,775.3 791.8,787.8 794.5,773.4 797.2,792.9 800.0,770.1 802.8,789.2 805.5,779.8 808.2,782.7 811.0,771.1 813.8,789.3 816.5,772.8 819.2,783.1 822.0,767.3 824.8,786.6 827.5,774.5 830.2,789.0 833.0,766.3 835.8,784.3 838.5,783.7 841.2,772.0 844.0,790.2 846.8,775.1 849.5,784.8 852.2,771.7 855.0,772.7 857.8,784.3 860.5,767.3 863.2,783.9 866.0,772.3 868.8,787.4 871.5,764.7 874.2,781.4 877.0,770.3 879.8,785.0 882.5,767.8 885.2,784.3 888.0,768.0 890.8,785.6 893.5,770.3 896.2,786.0 899.0,773.8 901.8,781.0 904.5,766.2 907.2,780.3 910.0,761.5 912.8,780.7 915.5,767.4 918.2,786.1 921.0,772.9 923.8,780.4 926.5,767.8 929.2,782.4" fill="none" stroke="#808080" stroke-width="1.5" stroke-linejoin="round"/>
<polyline points="96.0,810.0 98.8,815.5 101.5,808.0 104.2,802.9 107.0,816.1 109.8,806.8 112.5,812.6 115.2,807.1 118.0,814.2 120.8,806.3 123.5,810.8 126.2,803.6 129.0,813.8 131.8,801.9 134.5,809.4 137.2,800.7 140.0,809.2 142.8,803.6 145.5,810.3 148.2,801.4 151.0,811.4 153.8,802.9 156.5,810.6 159.2,802.7 162.0,813.2 164.8,805.6 167.5,814.0 170.2,808.2 173.0,817.8 175.8,809.9 178.5,819.2 181.2,822.8 184.0,816.2 186.8,825.3 189.5,817.4 192.2,832.2 195.0,829.1 197.8,838.8 200.5,830.3 203.2,841.2 206.0,844.3 208.8,836.3 211.5,830.6 214.2,812.2 217.0,816.9 219.8,804.3 222.5,819.0 225.2,805.8 228.0,813.1 230.8,804.3 233.5,812.6 236.2,805.9 239.0,813.7 241.8,800.0 244.5,813.2 247.2,801.0 250.0,808.9 252.8,802.9 255.5,810.4 258.2,800.9 261.0,805.5 263.8,801.8 266.5,813.8 269.2,803.5 272.0,812.6 274.8,804.9 277.5,813.2 280.2,807.4 283.0,806.6 285.8,816.2 288.5,809.9 291.2,814.5 294.0,806.2 296.8,818.2 299.5,808.5 302.2,805.7 305.0,816.3 307.8,807.7 310.5,813.6 313.2,809.9 316.0,816.6 318.8,811.6 321.5,816.9 324.2,808.1 327.0,818.7 329.8,815.6 332.5,825.7 335.2,816.9 338.0,830.5 340.8,826.9 343.5,831.4 346.2,821.1 349.0,829.1 351.8,820.9 354.5,830.7 357.2,818.9 360.0,828.5 362.8,821.7 365.5,827.3 368.2,814.9 371.0,826.6 373.8,818.3 376.5,823.1 379.2,814.9 382.0,823.9 384.8,815.8 387.5,819.5 390.2,814.7 393.0,822.3 395.8,816.4 398.5,820.7 401.2,815.8 404.0,824.3 406.8,814.8 409.5,816.3 412.2,824.5 415.0,817.5 417.8,827.6 420.5,813.7 423.2,828.5 426.0,822.5 428.8,819.8 431.5,833.9 434.2,822.6 437.0,828.6 439.8,823.3 442.5,824.6 445.2,810.1 448.0,812.0 450.8,808.5 453.5,818.8 456.2,806.3 459.0,812.1 461.8,802.8 464.5,814.4 467.2,800.2 470.0,804.0 472.8,802.0 475.5,805.7 478.2,798.1 481.0,800.3 483.8,799.3 486.5,810.7 489.2,797.9 492.0,806.3 494.8,800.0 497.5,809.0 500.2,809.1 503.0,803.1 505.8,808.9 508.5,811.8 511.2,804.7 514.0,811.9 516.8,805.2 519.5,813.4 522.2,816.5 525.0,809.5 527.8,812.5 530.5,805.6 533.2,818.8 536.0,808.4 538.8,816.3 541.5,811.5 544.2,819.4 547.0,814.2 549.8,818.5 552.5,819.8 555.2,815.0 558.0,824.4 560.8,813.8 563.5,823.0 566.2,814.1 569.0,823.8 571.8,827.8 574.5,815.8 577.2,822.2 580.0,815.2 582.8,820.1 585.5,819.5 588.2,813.2 591.0,821.6 593.8,813.5 596.5,817.8 599.2,810.8 602.0,818.3 604.8,809.8 607.5,815.8 610.2,805.8 613.0,816.6 615.8,811.0 618.5,817.5 621.2,811.9 624.0,820.7 626.8,814.9 629.5,825.8 632.2,820.8 635.0,838.4 637.8,835.0 640.5,849.2 643.2,839.3 646.0,857.1 648.8,853.7 651.5,865.2 654.2,862.0 657.0,867.1 659.8,864.1 662.5,874.6 665.2,860.8 668.0,856.0 670.8,830.5 673.5,833.6 676.2,818.9 679.0,822.2 681.8,808.1 684.5,812.6 687.2,807.3 690.0,816.9 692.8,808.0 695.5,811.9 698.2,810.3 701.0,817.1 703.8,806.2 706.5,815.8 709.2,809.2 712.0,819.2 714.8,808.3 717.5,818.5 720.2,811.4 723.0,818.1 725.8,810.5 728.5,816.4 731.2,812.3 734.0,823.2 736.8,814.0 739.5,819.0 742.2,811.5 745.0,822.9 747.8,813.2 750.5,810.4 753.2,824.6 756.0,814.2 758.8,820.4 761.5,820.3 764.2,811.2 767.0,822.4 769.8,821.6 772.5,813.3 775.2,819.6 778.0,810.6 780.8,823.7 783.5,816.6 786.2,818.1 789.0,812.1 791.8,820.3 794.5,813.6 797.2,822.2 800.0,810.0 802.8,822.0 805.5,816.3 808.2,818.5 811.0,809.9 813.8,820.8 816.5,811.8 819.2,820.2 822.0,812.0 824.8,822.8 827.5,819.0 830.2,827.6 833.0,816.0 835.8,825.8 838.5,826.7 841.2,820.9 844.0,832.9 846.8,825.2 849.5,832.0 852.2,826.0 855.0,825.7 857.8,834.2 860.5,824.8 863.2,836.7 866.0,830.1 868.8,839.7 871.5,827.9 874.2,836.9 877.0,829.6 879.8,836.0 882.5,826.6 885.2,837.5 888.0,826.9 890.8,838.1 893.5,825.3 896.2,838.0 899.0,828.6 901.8,832.1 904.5,825.1 907.2,835.0 910.0,822.3 912.8,832.1 915.5,826.0 918.2,837.0 921.0,829.7 923.8,836.2 926.5,826.4 929.2,836.8" fill="none" stroke="#0a0aff" stroke-width="1.5" stroke-linejoin="round"/>
<polyline points="96.0,846.2 98.8,863.9 101.5,840.2 104.2,831.9 107.0,866.3 109.8,842.6 112.5,861.3 115.2,838.7 118.0,864.3 120.8,842.0 123.5,861.7 126.2,839.5 129.0,866.9 131.8,834.2 134.5,863.6 137.2,831.1 140.0,855.8 142.8,844.0 145.5,859.3 148.2,834.1 151.0,858.8 153.8,843.4 156.5,851.3 159.2,834.4 162.0,859.7 164.8,832.1 167.5,856.2 170.2,834.8 173.0,864.1 175.8,829.8 178.5,856.2 181.2,862.3 184.0,844.7 186.8,865.2 189.5,836.2 192.2,873.1 195.0,856.0 197.8,874.1 200.5,843.6 203.2,885.0 206.0,911.1 208.8,884.8 211.5,891.5 214.2,854.2 217.0,878.3 219.8,840.4 222.5,876.3 225.2,847.5 228.0,866.0 230.8,841.1 233.5,874.5 236.2,846.1 239.0,869.3 241.8,836.8 244.5,867.8 247.2,838.7 250.0,861.5 252.8,836.2 255.5,857.1 258.2,834.4 261.0,851.7 263.8,827.1 266.5,866.8 269.2,831.6 272.0,859.4 274.8,835.8 277.5,857.5 280.2,837.3 283.0,841.4 285.8,862.5 288.5,847.2 291.2,854.3 294.0,833.6 296.8,865.0 299.5,834.6 302.2,825.5 305.0,850.0 307.8,826.8 310.5,842.6 313.2,837.9 316.0,858.1 318.8,837.0 321.5,854.1 324.2,826.1 327.0,861.0 329.8,838.4 332.5,860.7 335.2,823.2 338.0,860.5 340.8,844.3 343.5,859.3 346.2,833.1 349.0,858.4 351.8,838.7 354.5,862.6 357.2,830.5 360.0,865.1 362.8,840.8 365.5,859.5 368.2,825.5 371.0,860.8 373.8,841.7 376.5,858.4 379.2,828.6 382.0,858.6 384.8,837.3 387.5,856.2 390.2,831.9 393.0,859.5 395.8,836.9 398.5,858.4 401.2,836.4 404.0,861.2 406.8,834.9 409.5,835.9 412.2,865.9 415.0,847.7 417.8,870.7 420.5,830.9 423.2,866.4 426.0,844.7 428.8,837.7 431.5,875.6 434.2,837.1 437.0,866.7 439.8,848.5 442.5,866.6 445.2,832.6 448.0,852.0 450.8,834.5 453.5,870.2 456.2,833.8 459.0,856.5 461.8,833.7 464.5,863.8 467.2,830.0 470.0,840.5 472.8,836.9 475.5,848.9 478.2,832.8 481.0,844.8 483.8,828.6 486.5,857.3 489.2,829.1 492.0,848.7 494.8,828.1 497.5,848.5 500.2,853.1 503.0,832.2 505.8,844.1 508.5,856.4 511.2,829.0 514.0,847.1 516.8,837.2 519.5,858.3 522.2,852.5 525.0,836.4 527.8,847.6 530.5,820.4 533.2,856.8 536.0,830.7 538.8,855.1 541.5,833.6 544.2,856.1 547.0,837.5 549.8,848.5 552.5,856.0 555.2,831.4 558.0,858.9 560.8,828.6 563.5,860.9 566.2,830.8 569.0,855.8 571.8,867.7 574.5,838.0 577.2,856.7 580.0,838.1 582.8,857.3 585.5,858.6 588.2,836.2 591.0,863.0 593.8,849.9 596.5,856.7 599.2,834.9 602.0,851.0 604.8,829.3 607.5,851.1 610.2,823.0 613.0,845.4 615.8,822.3 618.5,841.8 621.2,819.0 624.0,840.8 626.8,824.0 629.5,852.2 632.2,821.7 635.0,856.0 637.8,832.3 640.5,856.9 643.2,825.7 646.0,867.7 648.8,855.5 651.5,877.7 654.2,863.9 657.0,886.7 659.8,892.5 662.5,887.2 665.2,870.5 668.0,901.1 670.8,864.7 673.5,888.4 676.2,855.9 679.0,877.0 681.8,847.4 684.5,859.9 687.2,848.7 690.0,864.5 692.8,847.1 695.5,857.0 698.2,842.4 701.0,868.4 703.8,840.4 706.5,867.2 709.2,843.8 712.0,869.2 714.8,843.1 717.5,868.6 720.2,849.5 723.0,873.5 725.8,844.2 728.5,859.7 731.2,845.5 734.0,876.7 736.8,850.5 739.5,864.5 742.2,842.7 745.0,876.5 747.8,846.8 750.5,842.8 753.2,875.4 756.0,850.4 758.8,865.7 761.5,875.4 764.2,844.9 767.0,874.1 769.8,866.4 772.5,844.6 775.2,866.4 778.0,842.7 780.8,878.6 783.5,860.0 786.2,864.1 789.0,849.5 791.8,866.2 794.5,848.9 797.2,879.2 800.0,844.5 802.8,878.5 805.5,861.3 808.2,862.3 811.0,843.8 813.8,872.1 816.5,845.1 819.2,865.3 822.0,843.5 824.8,868.8 827.5,854.4 830.2,876.1 833.0,842.3 835.8,874.3 838.5,870.2 841.2,852.3 844.0,878.0 846.8,855.6 849.5,870.2 852.2,850.1 855.0,850.5 857.8,871.0 860.5,842.2 863.2,877.0 866.0,854.3 868.8,877.1 871.5,845.7 874.2,874.0 877.0,849.0 879.8,872.8 882.5,848.6 885.2,875.0 888.0,844.3 890.8,879.4 893.5,846.4 896.2,879.9 899.0,857.5 901.8,873.4 904.5,845.4 907.2,866.5 910.0,839.4 912.8,862.6 915.5,847.4 918.2,877.3 921.0,852.5 923.8,869.4 926.5,849.9 929.2,876.1" fill="none" stroke="#ff1010" stroke-width="1.5" stroke-linejoin="round"/>
<polyline points="96.0,919.4 98.8,944.3 101.5,918.2 104.2,909.7 107.0,946.3 109.8,925.8 112.5,935.5 115.2,920.9 118.0,939.5 120.8,925.2 123.5,931.7 126.2,918.5 129.0,949.2 131.8,917.2 134.5,938.1 137.2,913.1 140.0,938.1 142.8,930.3 145.5,938.1 148.2,911.7 151.0,948.1 153.8,925.0 156.5,932.8 159.2,910.5 162.0,939.0 164.8,924.4 167.5,935.5 170.2,920.6 173.0,947.9 175.8,921.6 178.5,940.3 181.2,946.9 184.0,931.6 186.8,939.1 189.5,919.8 192.2,944.2 195.0,931.3 197.8,940.5 200.5,912.9 203.2,949.7 206.0,968.5 208.8,947.5 211.5,949.0 214.2,924.6 217.0,937.2 219.8,908.4 222.5,948.7 225.2,924.7 228.0,931.9 230.8,911.7 233.5,944.2 236.2,923.6 239.0,937.1 241.8,912.4 244.5,941.4 247.2,916.2 250.0,932.8 252.8,920.1 255.5,934.1 258.2,917.8 261.0,929.0 263.8,917.3 266.5,947.0 269.2,919.6 272.0,935.6 274.8,915.9 277.5,939.6 280.2,922.0 283.0,919.9 285.8,945.5 288.5,930.1 291.2,930.6 294.0,909.2 296.8,943.9 299.5,922.9 302.2,910.9 305.0,935.9 307.8,917.4 310.5,924.5 313.2,919.2 316.0,940.3 318.8,919.3 321.5,930.5 324.2,908.5 327.0,939.1 329.8,919.3 332.5,938.4 335.2,911.8 338.0,941.1 340.8,926.3 343.5,937.1 346.2,913.3 349.0,939.5 351.8,917.0 354.5,936.7 357.2,912.3 360.0,943.5 362.8,924.7 365.5,934.7 368.2,910.4 371.0,942.2 373.8,920.4 376.5,929.6 379.2,909.0 382.0,935.2 384.8,918.8 387.5,931.2 390.2,909.7 393.0,939.4 395.8,918.4 398.5,928.1 401.2,912.2 404.0,938.0 406.8,916.2 409.5,907.6 412.2,940.4 415.0,919.6 417.8,937.7 420.5,905.0 423.2,936.4 426.0,919.6 428.8,908.0 431.5,942.2 434.2,909.3 437.0,924.2 439.8,915.1 442.5,934.8 445.2,914.0 448.0,920.1 450.8,910.5 453.5,940.9 456.2,916.5 459.0,928.2 461.8,911.4 464.5,937.5 467.2,912.1 470.0,920.8 472.8,908.5 475.5,929.7 478.2,915.4 481.0,917.0 483.8,909.5 486.5,937.4 489.2,910.8 492.0,923.1 494.8,908.8 497.5,928.1 500.2,923.4 503.0,911.3 505.8,930.4 508.5,927.8 511.2,908.4 514.0,933.2 516.8,914.5 519.5,928.2 522.2,937.2 525.0,918.3 527.8,927.7 530.5,901.4 533.2,940.2 536.0,917.3 538.8,927.9 541.5,913.8 544.2,938.6 547.0,921.4 549.8,929.1 552.5,931.0 555.2,914.6 558.0,932.2 560.8,913.5 563.5,938.9 566.2,914.0 569.0,930.9 571.8,941.6 574.5,916.6 577.2,925.2 580.0,907.0 582.8,934.6 585.5,927.6 588.2,914.3 591.0,939.6 593.8,920.9 596.5,930.2 599.2,908.6 602.0,936.0 604.8,911.4 607.5,926.0 610.2,905.5 613.0,932.2 615.8,916.3 618.5,928.7 621.2,906.3 624.0,932.2 626.8,916.0 629.5,927.9 632.2,907.7 635.0,944.0 637.8,920.7 640.5,945.0 643.2,912.7 646.0,946.6 648.8,929.4 651.5,939.6 654.2,921.7 657.0,949.6 659.8,929.1 662.5,943.6 665.2,923.0 668.0,942.8 670.8,923.1 673.5,941.9 676.2,919.2 679.0,946.1 681.8,924.7 684.5,928.4 687.2,915.7 690.0,943.4 692.8,924.1 695.5,928.7 698.2,920.2 701.0,937.0 703.8,920.8 706.5,928.6 709.2,920.7 712.0,934.2 714.8,924.9 717.5,927.1 720.2,919.6 723.0,932.5 725.8,921.5 728.5,927.3 731.2,919.7 734.0,933.7 736.8,922.0 739.5,931.0 742.2,917.7 745.0,938.2 747.8,924.5 750.5,919.5 753.2,934.6 756.0,921.7 758.8,930.7 761.5,933.4 764.2,922.9 767.0,931.4 769.8,935.3 772.5,922.1 775.2,929.8 778.0,918.1 780.8,936.2 783.5,927.7 786.2,928.6 789.0,916.6 791.8,933.9 794.5,920.4 797.2,939.1 800.0,908.7 802.8,947.7 805.5,932.1 808.2,929.7 811.0,914.4 813.8,941.6 816.5,920.4 819.2,929.4 822.0,909.0 824.8,944.1 827.5,929.1 830.2,941.3 833.0,905.0 835.8,944.2 838.5,932.5 841.2,912.5 844.0,945.7 846.8,927.8 849.5,930.8 852.2,917.1 855.0,919.8 857.8,936.0 860.5,914.1 863.2,943.3 866.0,919.7 868.8,935.1 871.5,913.6 874.2,941.7 877.0,924.1 879.8,931.7 882.5,908.4 885.2,941.9 888.0,916.9 890.8,941.3 893.5,916.1 896.2,950.3 899.0,926.1 901.8,934.5 904.5,912.3 907.2,942.8 910.0,914.3 912.8,935.5 915.5,914.3 918.2,946.9 921.0,925.6 923.8,939.6 926.5,920.9 929.2,940.1" fill="none" stroke="#ff10ff" stroke-width="1.5" stroke-linejoin="round"/>
<polyline points="96.0,964.7 98.8,999.5 101.5,966.9 104.2,948.7 107.0,1012.3 109.8,967.2 112.5,987.7 115.2,958.7 118.0,1005.5 120.8,976.3 123.5,991.6 126.2,961.9 129.0,1006.1 131.8,962.6 134.5,990.3 137.2,948.1 140.0,993.2 142.8,977.0 145.5,990.7 148.2,952.6 151.0,1013.1 153.8,974.9 156.5,980.3 159.2,954.2 162.0,1000.0 164.8,971.1 167.5,990.4 170.2,958.6 173.0,1010.5 175.8,972.8 178.5,1001.2 181.2,1010.9 184.0,982.4 186.8,996.9 189.5,955.1 192.2,1006.0 195.0,985.4 197.8,991.5 200.5,943.1 203.2,1006.5 206.0,1033.5 208.8,1003.5 211.5,1013.3 214.2,973.5 217.0,995.1 219.8,946.2 222.5,1012.5 225.2,974.5 228.0,989.4 230.8,951.3 233.5,1005.5 236.2,966.9 239.0,994.5 241.8,955.8 244.5,1006.0 247.2,962.2 250.0,988.4 252.8,957.3 255.5,986.1 258.2,965.9 261.0,978.4 263.8,951.8 266.5,1007.5 269.2,969.6 272.0,990.8 274.8,956.3 277.5,996.5 280.2,971.7 283.0,963.0 285.8,1002.6 288.5,975.9 291.2,991.6 294.0,951.1 296.8,1002.4 299.5,964.7 302.2,949.8 305.0,995.3 307.8,962.0 310.5,982.4 313.2,964.4 316.0,1002.3 318.8,965.7 321.5,987.9 324.2,946.7 327.0,998.3 329.8,974.1 332.5,990.0 335.2,951.8 338.0,1002.4 340.8,977.7 343.5,990.6 346.2,956.6 349.0,1000.9 351.8,966.1 354.5,994.6 357.2,952.8 360.0,1007.7 362.8,968.7 365.5,990.1 368.2,948.1 371.0,1001.1 373.8,969.5 376.5,986.5 379.2,945.6 382.0,996.0 384.8,963.2 387.5,979.6 390.2,947.4 393.0,995.3 395.8,968.4 398.5,982.4 401.2,955.5 404.0,996.1 406.8,962.9 409.5,949.5 412.2,997.5 415.0,970.5 417.8,995.4 420.5,941.3 423.2,993.6 426.0,968.7 428.8,946.7 431.5,1006.2 434.2,954.8 437.0,982.2 439.8,964.9 442.5,1003.2 445.2,968.5 448.0,979.5 450.8,948.9 453.5,991.6 456.2,956.8 459.0,982.7 461.8,955.4 464.5,998.1 467.2,955.8 470.0,967.2 472.8,946.6 475.5,985.4 478.2,958.3 481.0,966.7 483.8,952.0 486.5,995.6 489.2,955.9 492.0,969.3 494.8,950.5 497.5,975.4 500.2,974.7 503.0,948.7 505.8,984.6 508.5,981.3 511.2,943.6 514.0,986.6 516.8,961.1 519.5,978.7 522.2,991.4 525.0,961.5 527.8,974.8 530.5,935.4 533.2,992.8 536.0,959.3 538.8,974.4 541.5,952.6 544.2,995.6 547.0,958.9 549.8,974.4 552.5,986.0 555.2,958.8 558.0,989.9 560.8,952.3 563.5,993.5 566.2,955.8 569.0,976.9 571.8,997.4 574.5,952.1 577.2,971.6 580.0,940.7 582.8,979.0 585.5,976.0 588.2,946.8 591.0,990.9 593.8,962.3 596.5,973.0 599.2,943.8 602.0,984.1 604.8,949.8 607.5,974.8 610.2,945.0 613.0,983.4 615.8,958.9 618.5,972.9 621.2,943.0 624.0,981.0 626.8,955.8 629.5,983.3 632.2,944.8 635.0,1004.8 637.8,966.6 640.5,994.0 643.2,945.9 646.0,1008.3 648.8,971.8 651.5,985.6 654.2,979.6 657.0,1015.6 659.8,989.4 662.5,993.4 665.2,961.3 668.0,996.5 670.8,964.2 673.5,988.0 676.2,960.7 679.0,1003.9 681.8,971.4 684.5,983.5 687.2,955.4 690.0,995.1 692.8,971.1 695.5,976.5 698.2,961.3 701.0,984.7 703.8,962.1 706.5,974.6 709.2,965.5 712.0,983.6 714.8,965.6 717.5,975.0 720.2,958.9 723.0,983.1 725.8,961.5 728.5,971.9 731.2,963.4 734.0,984.8 736.8,963.3 739.5,977.1 742.2,956.9 745.0,986.4 747.8,969.2 750.5,959.2 753.2,985.1 756.0,965.3 758.8,974.7 761.5,979.4 764.2,963.4 767.0,980.6 769.8,983.1 772.5,965.3 775.2,976.7 778.0,955.7 780.8,989.4 783.5,972.6 786.2,974.8 789.0,954.9 791.8,993.2 794.5,962.3 797.2,992.7 800.0,948.8 802.8,1001.1 805.5,977.3 808.2,978.9 811.0,950.8 813.8,990.9 816.5,960.4 819.2,976.6 822.0,950.3 824.8,1000.7 827.5,975.1 830.2,989.6 833.0,945.4 835.8,995.5 838.5,982.4 841.2,955.7 844.0,1009.4 846.8,969.6 849.5,984.8 852.2,963.3 855.0,966.0 857.8,987.6 860.5,954.3 863.2,998.0 866.0,964.3 868.8,989.0 871.5,950.5 874.2,992.5 877.0,974.0 879.8,985.0 882.5,948.2 885.2,1002.5 888.0,964.0 890.8,993.3 893.5,956.7 896.2,1005.2 899.0,977.4 901.8,986.4 904.5,947.7 907.2,994.4 910.0,949.4 912.8,982.8 915.5,958.4 918.2,1006.5 921.0,969.4 923.8,987.0 926.5,963.7 929.2,997.3" fill="none" stroke="#857d10" stroke-width="1.5" stroke-linejoin="round"/>
<polyline points="96.0,1017.3 98.8,1041.7 101.5,1021.0 104.2,1004.8 107.0,1038.9 109.8,1021.7 112.5,1028.6 115.2,1017.9 118.0,1039.6 120.8,1026.8 123.5,1028.8 126.2,1016.7 129.0,1041.1 131.8,1017.4 134.5,1034.1 137.2,1012.6 140.0,1033.8 142.8,1027.7 145.5,1035.9 148.2,1017.1 151.0,1042.7 153.8,1023.9 156.5,1031.4 159.2,1013.1 162.0,1039.0 164.8,1022.5 167.5,1036.1 170.2,1019.6 173.0,1051.5 175.8,1030.1 178.5,1044.6 181.2,1059.4 184.0,1038.9 186.8,1044.2 189.5,1026.5 192.2,1058.7 195.0,1041.8 197.8,1054.0 200.5,1021.9 203.2,1055.8 206.0,1075.8 208.8,1053.1 211.5,1054.9 214.2,1024.2 217.0,1040.9 219.8,1012.4 222.5,1052.2 225.2,1031.7 228.0,1035.7 230.8,1016.4 233.5,1046.8 236.2,1027.7 239.0,1041.4 241.8,1015.5 244.5,1043.3 247.2,1021.6 250.0,1038.6 252.8,1017.7 255.5,1037.3 258.2,1021.8 261.0,1030.5 263.8,1013.8 266.5,1047.5 269.2,1024.4 272.0,1040.6 274.8,1020.7 277.5,1044.3 280.2,1028.4 283.0,1024.0 285.8,1049.7 288.5,1030.2 291.2,1039.2 294.0,1017.1 296.8,1046.7 299.5,1027.1 302.2,1013.7 305.0,1039.5 307.8,1021.3 310.5,1026.8 313.2,1024.8 316.0,1043.7 318.8,1027.0 321.5,1038.8 324.2,1013.8 327.0,1043.2 329.8,1029.3 332.5,1039.3 335.2,1021.1 338.0,1048.9 340.8,1034.4 343.5,1037.9 346.2,1017.8 349.0,1045.5 351.8,1026.2 354.5,1042.4 357.2,1019.3 360.0,1049.0 362.8,1031.9 365.5,1037.9 368.2,1014.6 371.0,1045.8 373.8,1025.1 376.5,1037.1 379.2,1014.1 382.0,1041.1 384.8,1023.0 387.5,1035.2 390.2,1016.1 393.0,1042.6 395.8,1023.2 398.5,1032.6 401.2,1018.7 404.0,1041.1 406.8,1025.4 409.5,1016.2 412.2,1041.0 415.0,1028.3 417.8,1046.7 420.5,1010.9 423.2,1043.0 426.0,1031.3 428.8,1014.0 431.5,1049.8 434.2,1021.3 437.0,1035.2 439.8,1027.6 442.5,1048.1 445.2,1028.3 448.0,1033.9 450.8,1007.8 453.5,1035.1 456.2,1010.3 459.0,1024.5 461.8,1011.5 464.5,1036.2 467.2,1009.4 470.0,1014.1 472.8,1005.8 475.5,1026.9 478.2,1011.1 481.0,1016.1 483.8,1004.0 486.5,1032.0 489.2,1007.1 492.0,1019.2 494.8,1006.3 497.5,1022.7 500.2,1025.8 503.0,1007.6 505.8,1023.6 508.5,1017.1 511.2,1002.7 514.0,1028.9 516.8,1016.5 519.5,1024.4 522.2,1038.9 525.0,1022.1 527.8,1030.5 530.5,1012.0 533.2,1041.7 536.0,1020.3 538.8,1034.4 541.5,1022.7 544.2,1046.0 547.0,1030.8 549.8,1030.0 552.5,1036.9 555.2,1023.9 558.0,1039.3 560.8,1020.0 563.5,1041.5 566.2,1022.9 569.0,1034.3 571.8,1044.7 574.5,1018.9 577.2,1033.1 580.0,1016.7 582.8,1033.4 585.5,1030.2 588.2,1021.9 591.0,1042.4 593.8,1025.2 596.5,1032.8 599.2,1018.4 602.0,1036.7 604.8,1019.6 607.5,1030.6 610.2,1012.1 613.0,1038.3 615.8,1022.5 618.5,1029.9 621.2,1012.5 624.0,1039.2 626.8,1022.6 629.5,1040.1 632.2,1017.8 635.0,1054.0 637.8,1035.6 640.5,1054.4 643.2,1025.7 646.0,1056.6 648.8,1038.6 651.5,1051.5 654.2,1035.5 657.0,1065.6 659.8,1050.3 662.5,1062.5 665.2,1035.6 668.0,1055.4 670.8,1036.1 673.5,1049.6 676.2,1025.8 679.0,1044.0 681.8,1014.9 684.5,1022.5 687.2,1010.0 690.0,1033.9 692.8,1016.9 695.5,1015.7 698.2,1011.4 701.0,1027.1 703.8,1013.4 706.5,1020.0 709.2,1012.1 712.0,1025.4 714.8,1014.4 717.5,1021.6 720.2,1012.1 723.0,1024.0 725.8,1012.1 728.5,1019.9 731.2,1013.5 734.0,1023.9 736.8,1015.1 739.5,1021.0 742.2,1009.7 745.0,1028.4 747.8,1014.6 750.5,1010.5 753.2,1026.5 756.0,1015.0 758.8,1020.3 761.5,1026.0 764.2,1014.9 767.0,1023.1 769.8,1027.6 772.5,1013.5 775.2,1020.8 778.0,1011.2 780.8,1028.0 783.5,1018.9 786.2,1019.3 789.0,1010.4 791.8,1031.9 794.5,1020.5 797.2,1032.4 800.0,1008.2 802.8,1043.2 805.5,1028.1 808.2,1026.9 811.0,1013.2 813.8,1039.3 816.5,1015.6 819.2,1031.7 822.0,1009.1 824.8,1040.9 827.5,1028.1 830.2,1039.0 833.0,1010.9 835.8,1039.2 838.5,1030.6 841.2,1019.4 844.0,1043.8 846.8,1028.1 849.5,1028.9 852.2,1019.6 855.0,1021.4 857.8,1034.6 860.5,1015.8 863.2,1044.4 866.0,1025.5 868.8,1038.4 871.5,1014.9 874.2,1036.8 877.0,1031.3 879.8,1037.8 882.5,1011.8 885.2,1046.8 888.0,1025.1 890.8,1038.9 893.5,1019.4 896.2,1053.5 899.0,1027.8 901.8,1036.3 904.5,1018.8 907.2,1043.9 910.0,1017.8 912.8,1038.6 915.5,1021.7 918.2,1048.9 921.0,1031.6 923.8,1039.5 926.5,1027.1 929.2,1051.3" fill="none" stroke="#18962a" stroke-width="1.5" stroke-linejoin="round"/>
</g>
<line x1="97.6" y1="651" x2="927.4" y2="651" stroke="#222" stroke-width="1.2"/>
<text transform="translate(59.94,385.60) scale(1.0714,1)" font-size="23.43" fill="#000" stroke="#000" stroke-width="0.2">10</text>
<text transform="translate(61.95,338.35) scale(1.0714,1)" font-size="23.43" fill="#000" stroke="#000" stroke-width="0.2">11</text>
<text transform="translate(60.19,291.10) scale(1.0714,1)" font-size="23.43" fill="#000" stroke="#000" stroke-width="0.2">12</text>
<text transform="translate(59.94,243.85) scale(1.0714,1)" font-size="23.43" fill="#000" stroke="#000" stroke-width="0.2">13</text>
<text transform="translate(59.69,196.60) scale(1.0714,1)" font-size="23.43" fill="#000" stroke="#000" stroke-width="0.2">14</text>
<text transform="translate(59.94,149.35) scale(1.0714,1)" font-size="23.43" fill="#000" stroke="#000" stroke-width="0.2">15</text>
<text transform="translate(59.94,102.10) scale(1.0714,1)" font-size="23.43" fill="#000" stroke="#000" stroke-width="0.2">16</text>
<text transform="translate(60.19,54.85) scale(1.0714,1)" font-size="23.43" fill="#000" stroke="#000" stroke-width="0.2">17</text>
<text transform="translate(82.11,402.90) scale(1.0980,1)" font-size="23.57" fill="#000" stroke="#000" stroke-width="0.2">20</text>
<text transform="translate(162.99,402.90) scale(1.0980,1)" font-size="23.57" fill="#000" stroke="#000" stroke-width="0.2">30</text>
<text transform="translate(243.99,402.90) scale(1.0980,1)" font-size="23.57" fill="#000" stroke="#000" stroke-width="0.2">40</text>
<text transform="translate(324.49,402.90) scale(1.0980,1)" font-size="23.57" fill="#000" stroke="#000" stroke-width="0.2">50</text>
<text transform="translate(405.11,402.90) scale(1.0980,1)" font-size="23.57" fill="#000" stroke="#000" stroke-width="0.2">60</text>
<text transform="translate(171.02,430.80) scale(1.1509,1)" font-size="24.78" fill="#000" stroke="#000" stroke-width="0.2">Pitch [degree]</text>
<text transform="translate(49.60,316.86) rotate(-90) scale(1.1773,1)" font-size="24.86" fill="#000" stroke="#000" stroke-width="0.2">Gyroradius [cm]</text>
<text transform="translate(444.79,385.40) scale(1.0526,1)" font-size="24.00" fill="#000" stroke="#000" stroke-width="0.2">0.0</text>
<text transform="translate(443.78,311.90) scale(1.0526,1)" font-size="24.00" fill="#000" stroke="#000" stroke-width="0.2">1.0</text>
<text transform="translate(444.54,238.40) scale(1.0526,1)" font-size="24.00" fill="#000" stroke="#000" stroke-width="0.2">2.0</text>
<text transform="translate(444.79,164.90) scale(1.0526,1)" font-size="24.00" fill="#000" stroke="#000" stroke-width="0.2">3.0</text>
<text transform="translate(445.29,91.40) scale(1.0526,1)" font-size="24.00" fill="#000" stroke="#000" stroke-width="0.2">4.0</text>
<text transform="translate(508.60,290.71) rotate(-90) scale(1.0884,1)" font-size="25.86" fill="#000" stroke="#000" stroke-width="0.2">Counts [a.u.]</text>
<text transform="translate(115.10,74.50) scale(1.0963,1)" font-size="26.43" fill="#fff">#46944</text>
<text transform="translate(266.71,74.80) scale(1.0991,1)" font-size="26.57" fill="#fff">t = 0.739 s</text>
<text transform="translate(108.81,367.00) scale(0.9567,1)" font-size="31.16" font-weight="bold" fill="#fff">FILD</text>
<text transform="translate(564.94,385.60) scale(1.0714,1)" font-size="23.43" fill="#000" stroke="#000" stroke-width="0.2">10</text>
<text transform="translate(566.95,338.35) scale(1.0714,1)" font-size="23.43" fill="#000" stroke="#000" stroke-width="0.2">11</text>
<text transform="translate(565.19,291.10) scale(1.0714,1)" font-size="23.43" fill="#000" stroke="#000" stroke-width="0.2">12</text>
<text transform="translate(564.94,243.85) scale(1.0714,1)" font-size="23.43" fill="#000" stroke="#000" stroke-width="0.2">13</text>
<text transform="translate(564.69,196.60) scale(1.0714,1)" font-size="23.43" fill="#000" stroke="#000" stroke-width="0.2">14</text>
<text transform="translate(564.94,149.35) scale(1.0714,1)" font-size="23.43" fill="#000" stroke="#000" stroke-width="0.2">15</text>
<text transform="translate(564.94,102.10) scale(1.0714,1)" font-size="23.43" fill="#000" stroke="#000" stroke-width="0.2">16</text>
<text transform="translate(565.19,54.85) scale(1.0714,1)" font-size="23.43" fill="#000" stroke="#000" stroke-width="0.2">17</text>
<text transform="translate(587.11,402.90) scale(1.0980,1)" font-size="23.57" fill="#000" stroke="#000" stroke-width="0.2">20</text>
<text transform="translate(667.99,402.90) scale(1.0980,1)" font-size="23.57" fill="#000" stroke="#000" stroke-width="0.2">30</text>
<text transform="translate(748.99,402.90) scale(1.0980,1)" font-size="23.57" fill="#000" stroke="#000" stroke-width="0.2">40</text>
<text transform="translate(829.49,402.90) scale(1.0980,1)" font-size="23.57" fill="#000" stroke="#000" stroke-width="0.2">50</text>
<text transform="translate(910.11,402.90) scale(1.0980,1)" font-size="23.57" fill="#000" stroke="#000" stroke-width="0.2">60</text>
<text transform="translate(676.02,430.80) scale(1.1509,1)" font-size="24.78" fill="#000" stroke="#000" stroke-width="0.2">Pitch [degree]</text>
<text transform="translate(554.60,316.86) rotate(-90) scale(1.1773,1)" font-size="24.86" fill="#000" stroke="#000" stroke-width="0.2">Gyroradius [cm]</text>
<text transform="translate(949.79,385.40) scale(1.0526,1)" font-size="24.00" fill="#000" stroke="#000" stroke-width="0.2">0.0</text>
<text transform="translate(948.78,311.90) scale(1.0526,1)" font-size="24.00" fill="#000" stroke="#000" stroke-width="0.2">1.0</text>
<text transform="translate(949.54,238.40) scale(1.0526,1)" font-size="24.00" fill="#000" stroke="#000" stroke-width="0.2">2.0</text>
<text transform="translate(949.79,164.90) scale(1.0526,1)" font-size="24.00" fill="#000" stroke="#000" stroke-width="0.2">3.0</text>
<text transform="translate(950.29,91.40) scale(1.0526,1)" font-size="24.00" fill="#000" stroke="#000" stroke-width="0.2">4.0</text>
<text transform="translate(1013.60,290.71) rotate(-90) scale(1.0884,1)" font-size="25.86" fill="#000" stroke="#000" stroke-width="0.2">Counts [a.u.]</text>
<text transform="translate(620.10,74.50) scale(1.0963,1)" font-size="26.43" fill="#fff">#46944</text>
<text transform="translate(786.81,75.00) scale(1.0894,1)" font-size="27.00" fill="#fff">t = 0.74 s</text>
<text transform="translate(613.81,367.00) scale(0.9567,1)" font-size="31.16" font-weight="bold" fill="#fff">FILD</text>
<text transform="translate(104.05,31.00) scale(1.0491,1)" font-size="34.63" fill="#000">a)</text>
<text transform="translate(603.96,31.00) scale(1.0387,1)" font-size="34.38" fill="#000">b)</text>
<text transform="translate(296.35,160.80) scale(0.9294,1)" font-size="31.59" fill="#52a37c" stroke="#52a37c" stroke-width="0.2">ELM</text>
<text transform="translate(802.12,136.00) scale(0.9738,1)" font-size="31.88" fill="#a5a04b" stroke="#a5a04b" stroke-width="0.2">Post</text>
<text transform="translate(802.28,160.60) scale(0.9332,1)" font-size="31.01" fill="#a5a04b" stroke="#a5a04b" stroke-width="0.2">ELM</text>
<text transform="translate(104.62,639.60) scale(1.0483,1)" font-size="34.71" fill="#000">plasma density [m-2]</text>
<text transform="translate(705.00,1077.50) scale(0.9821,1)" font-size="27.25" fill="#000">AXUV3 (300 nm)</text>
<rect x="162" y="474" width="52.19999999999999" height="615.2" fill="#00ffff" fill-opacity="0.2"/>
<rect x="396.5" y="474" width="51.5" height="615.2" fill="#00ffff" fill-opacity="0.2"/>
<rect x="629.4" y="474" width="52.10000000000002" height="615.2" fill="#00ffff" fill-opacity="0.2"/>
<path d="M97.6,1089.2 L97.6,474 M927.4,474 L927.4,1089.2 L97.6,1089.2" fill="none" stroke="#2a2a2a" stroke-width="1.2"/>
<line x1="97.0" y1="474" x2="928.0" y2="474" stroke="#5a5a5a" stroke-width="1.3"/>
<line x1="97.6" y1="521.7" x2="106.1" y2="521.7" stroke="#333" stroke-width="1.2"/>
<line x1="97.6" y1="571.7" x2="106.1" y2="571.7" stroke="#333" stroke-width="1.2"/>
<line x1="97.6" y1="621.7" x2="106.1" y2="621.7" stroke="#333" stroke-width="1.2"/>
<line x1="106.5" y1="1089.2" x2="106.5" y2="1094.6000000000001" stroke="#333" stroke-width="1.2"/>
<line x1="143.5" y1="1089.2" x2="143.5" y2="1094.6000000000001" stroke="#333" stroke-width="1.2"/>
<line x1="180.4" y1="1089.2" x2="180.4" y2="1094.6000000000001" stroke="#333" stroke-width="1.2"/>
<line x1="217.4" y1="1089.2" x2="217.4" y2="1094.6000000000001" stroke="#333" stroke-width="1.2"/>
<line x1="254.3" y1="1089.2" x2="254.3" y2="1094.6000000000001" stroke="#333" stroke-width="1.2"/>
<line x1="291.3" y1="1089.2" x2="291.3" y2="1094.6000000000001" stroke="#333" stroke-width="1.2"/>
<line x1="328.3" y1="1089.2" x2="328.3" y2="1094.6000000000001" stroke="#333" stroke-width="1.2"/>
<line x1="365.2" y1="1089.2" x2="365.2" y2="1094.6000000000001" stroke="#333" stroke-width="1.2"/>
<line x1="402.2" y1="1089.2" x2="402.2" y2="1094.6000000000001" stroke="#333" stroke-width="1.2"/>
<line x1="439.1" y1="1089.2" x2="439.1" y2="1094.6000000000001" stroke="#333" stroke-width="1.2"/>
<line x1="476.1" y1="1089.2" x2="476.1" y2="1094.6000000000001" stroke="#333" stroke-width="1.2"/>
<line x1="513.1" y1="1089.2" x2="513.1" y2="1094.6000000000001" stroke="#333" stroke-width="1.2"/>
<line x1="550.0" y1="1089.2" x2="550.0" y2="1094.6000000000001" stroke="#333" stroke-width="1.2"/>
<line x1="587.0" y1="1089.2" x2="587.0" y2="1094.6000000000001" stroke="#333" stroke-width="1.2"/>
<line x1="623.9" y1="1089.2" x2="623.9" y2="1094.6000000000001" stroke="#333" stroke-width="1.2"/>
<line x1="660.9" y1="1089.2" x2="660.9" y2="1094.6000000000001" stroke="#333" stroke-width="1.2"/>
<line x1="697.9" y1="1089.2" x2="697.9" y2="1094.6000000000001" stroke="#333" stroke-width="1.2"/>
<line x1="734.8" y1="1089.2" x2="734.8" y2="1094.6000000000001" stroke="#333" stroke-width="1.2"/>
<line x1="771.8" y1="1089.2" x2="771.8" y2="1094.6000000000001" stroke="#333" stroke-width="1.2"/>
<line x1="808.7" y1="1089.2" x2="808.7" y2="1094.6000000000001" stroke="#333" stroke-width="1.2"/>
<line x1="845.7" y1="1089.2" x2="845.7" y2="1094.6000000000001" stroke="#333" stroke-width="1.2"/>
<line x1="882.7" y1="1089.2" x2="882.7" y2="1094.6000000000001" stroke="#333" stroke-width="1.2"/>
<rect x="840.4" y="498.3" width="86.3" height="188" fill="#fff" stroke="#777" stroke-width="1.2"/>
<text transform="translate(8.67,529.50) scale(1.1255,1)" font-size="20.71" fill="#000" stroke="#000" stroke-width="0.2">3.5e+20</text>
<text transform="translate(8.67,629.30) scale(1.1255,1)" font-size="20.71" fill="#000" stroke="#000" stroke-width="0.2">3.4e+20</text>
<text transform="translate(89.68,1117.10) scale(0.9945,1)" font-size="20.43" fill="#000">725</text>
<text transform="translate(274.48,1117.10) scale(0.9945,1)" font-size="20.43" fill="#000">730</text>
<text transform="translate(459.28,1117.10) scale(0.9945,1)" font-size="20.43" fill="#000">735</text>
<text transform="translate(644.08,1117.10) scale(0.9945,1)" font-size="20.43" fill="#000">740</text>
<text transform="translate(828.88,1117.10) scale(0.9945,1)" font-size="20.43" fill="#000">745</text>
<text transform="translate(462.81,1145.30) scale(0.9677,1)" font-size="30.58" fill="#000">Time [s]</text>
<text transform="translate(79.30,973.69) rotate(-90) scale(0.9409,1)" font-size="31.45" fill="#000">ssNPA rate [a.u.]</text>
<text transform="translate(816.96,470.20) scale(0.9437,1)" font-size="34.00" font-weight="bold" fill="#000">#46944</text>
<text transform="translate(879.21,513.60) scale(1.0555,1)" font-size="18.36" fill="#000" stroke="#000" stroke-width="0.2">λ</text>
<text transform="translate(849.92,541.20) scale(1.1286,1)" font-size="19.43" fill="#000" stroke="#000" stroke-width="0.2">-0.122</text>
<text transform="translate(849.92,567.60) scale(1.1204,1)" font-size="19.57" fill="#808080" stroke="#808080" stroke-width="0.2">-0.048</text>
<text transform="translate(849.68,592.40) scale(1.1568,1)" font-size="19.43" fill="#0000ff" stroke="#0000ff" stroke-width="0.2">+0.027</text>
<text transform="translate(849.68,615.00) scale(1.1663,1)" font-size="19.14" fill="#ff0000" stroke="#ff0000" stroke-width="0.2">+0.064</text>
<text transform="translate(849.68,637.70) scale(1.1663,1)" font-size="19.14" fill="#ff00ff" stroke="#ff00ff" stroke-width="0.2">+0.214</text>
<text transform="translate(849.68,659.90) scale(1.1318,1)" font-size="19.86" fill="#808000" stroke="#808000" stroke-width="0.2">+0.288</text>
<text transform="translate(849.68,679.50) scale(1.1281,1)" font-size="19.86" fill="#008000" stroke="#008000" stroke-width="0.2">+0.360</text>
<text transform="translate(98.42,458.60) scale(1.0624,1)" font-size="34.81" fill="#000">c)</text>
</svg>
</body></html>
